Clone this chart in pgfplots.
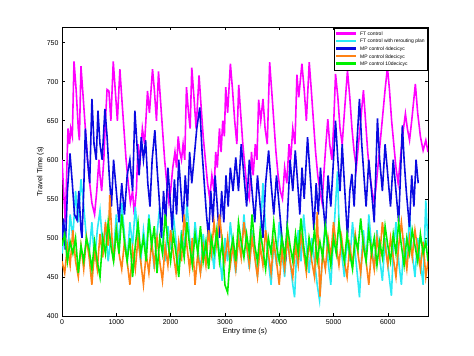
\documentclass[border=0pt]{standalone}
\usepackage{fontspec}
\setmainfont{Liberation Sans}
\usepackage{pgfplots}
\pgfplotsset{compat=1.18}
\definecolor{cFT}{RGB}{255,0,255}
\definecolor{cRR}{RGB}{40,235,245}
\definecolor{cMPa}{RGB}{10,10,225}
\definecolor{cMPb}{RGB}{255,130,20}
\definecolor{cMPc}{RGB}{0,240,0}
\newcommand{\lgline}[1]{\textcolor{#1}{\rule[0.3ex]{0.72cm}{2.4pt}}}
\begin{document}
\begin{tikzpicture}
\useasboundingbox (0,0) rectangle (474bp,356bp);
\begin{axis}[
  at={(62bp,40bp)}, anchor=south west, scale only axis,
  width=366bp, height=289bp,
  xmin=0, xmax=6740, ymin=400, ymax=770,
  xtick={0,1000,2000,3000,4000,5000,6000},
  ytick={400,450,500,550,600,650,700,750},
  tick align=inside, major tick length=3bp,
  axis line style={line width=0.6pt},
  tick style={black, line width=0.5pt},
  tick label style={font=\fontsize{7}{8}\selectfont},
  label style={font=\fontsize{7.5}{9}\selectfont},
  /pgf/number format/assume math mode=true,
  /pgf/number format/set thousands separator={},
  xlabel={Entry time (s)}, ylabel={Travel Time (s)},
  xlabel style={yshift=3bp}, ylabel style={yshift=-4bp},
]
\addplot[color=cFT, line width=1.6pt] coordinates {
(0,600)(30,560)(60,520)(90,590)(110,640)(140,620)(160,640)(190,630)(221,726)(260,690)(300,640)(320,625)(349,720)(390,680)(430,640)(470,600)(510,570)(550,545)(600,530)(640,560)(680,600)(700,580)(730,560)(770,600)(800,650)(830,690)(864,688)(900,650)(944,726)(980,690)(1020,650)(1066,716)(1100,680)(1140,640)(1180,600)(1220,570)(1260,545)(1300,560)(1330,530)(1370,560)(1400,620)(1440,600)(1480,640)(1520,620)(1575,688)(1610,660)(1667,716)(1700,690)(1740,650)(1777,713)(1810,680)(1850,640)(1890,600)(1930,570)(1970,545)(2000,560)(2040,590)(2080,610)(2110,590)(2140,630)(2170,610)(2200,600)(2230,620)(2260,600)(2292,693)(2330,660)(2360,640)(2390,718)(2430,680)(2470,640)(2524,708)(2560,670)(2600,630)(2640,600)(2680,570)(2720,550)(2760,580)(2800,560)(2830,610)(2860,590)(2900,640)(2930,610)(2960,650)(2990,630)(3015,693)(3050,660)(3101,723)(3140,690)(3180,650)(3220,620)(3254,696)(3290,660)(3330,620)(3370,590)(3410,560)(3450,550)(3490,610)(3520,580)(3560,620)(3590,600)(3621,677)(3660,650)(3701,678)(3740,640)(3780,620)(3824,725)(3860,690)(3900,650)(3940,610)(3980,580)(4020,560)(4060,550)(4100,590)(4140,570)(4180,620)(4210,600)(4250,640)(4290,620)(4326,709)(4360,680)(4418,723)(4460,690)(4500,650)(4553,725)(4590,690)(4630,650)(4670,610)(4710,580)(4750,560)(4790,545)(4830,590)(4860,620)(4895,652)(4930,620)(4970,600)(5000,640)(5037,710)(5080,680)(5120,640)(5160,620)(5200,660)(5257,714)(5300,680)(5340,640)(5380,610)(5420,590)(5460,620)(5500,650)(5551,689)(5590,650)(5630,610)(5670,580)(5710,560)(5750,545)(5790,570)(5830,600)(5870,630)(5910,660)(5950,690)(5993,718)(6030,690)(6070,650)(6110,620)(6150,590)(6190,570)(6230,600)(6270,630)(6324,659)(6360,640)(6400,625)(6440,650)(6507,697)(6550,660)(6600,630)(6650,612)(6700,625)(6740,610)
};
\addplot[color=cRR, line width=1.6pt] coordinates {
(0,480)(50,510)(100,470)(150,530)(200,500)(250,560)(300,520)(350,575)(400,540)(450,500)(500,480)(550,520)(600,470)(650,510)(700,535)(750,490)(800,515)(850,470)(900,500)(950,480)(1000,530)(1050,490)(1100,545)(1150,505)(1200,470)(1250,520)(1300,490)(1350,540)(1400,500)(1450,470)(1500,510)(1550,480)(1600,530)(1650,495)(1700,460)(1750,505)(1800,540)(1850,500)(1900,470)(1950,515)(2000,485)(2050,530)(2100,495)(2150,465)(2200,510)(2250,480)(2300,545)(2350,500)(2400,470)(2450,520)(2500,490)(2550,455)(2600,505)(2650,475)(2700,520)(2750,490)(2800,460)(2850,510)(2900,480)(2950,445)(3000,500)(3050,470)(3100,520)(3150,485)(3200,455)(3250,505)(3300,475)(3350,530)(3400,490)(3450,460)(3500,510)(3550,480)(3600,450)(3650,500)(3700,570)(3750,510)(3800,470)(3850,440)(3900,495)(3950,465)(4000,520)(4050,480)(4100,450)(4150,500)(4200,470)(4250,440)(4283,424)(4320,480)(4350,510)(4400,470)(4450,530)(4500,490)(4550,455)(4600,500)(4650,470)(4700,440)(4743,420)(4800,480)(4850,520)(4900,470)(4950,440)(5000,500)(5073,585)(5100,520)(5150,480)(5200,450)(5250,500)(5300,470)(5350,520)(5400,480)(5450,445)(5478,424)(5520,480)(5550,510)(5600,470)(5650,530)(5700,490)(5750,460)(5800,510)(5850,475)(5900,445)(5950,500)(6000,465)(6066,426)(6100,480)(6150,520)(6200,470)(6250,440)(6300,500)(6350,465)(6400,530)(6450,480)(6500,450)(6550,500)(6600,470)(6650,440)(6700,548)(6740,490)
};
\addplot[color=cMPa, line width=1.6pt] coordinates {
(0,500)(30,525)(60,485)(100,560)(147,608)(190,570)(230,530)(276,523)(310,560)(350,510)(368,500)(400,560)(430,640)(470,600)(510,570)(551,678)(590,620)(630,600)(662,663)(700,620)(740,600)(790,665)(830,630)(870,580)(910,540)(950,600)(1000,560)(1050,520)(1100,570)(1150,530)(1200,580)(1250,600)(1300,560)(1342,663)(1380,620)(1420,580)(1460,629)(1500,600)(1540,625)(1580,570)(1620,540)(1660,600)(1710,638)(1750,590)(1790,550)(1830,500)(1870,560)(1910,520)(1950,590)(1990,550)(2030,510)(2070,575)(2110,530)(2150,600)(2190,560)(2230,520)(2270,580)(2310,540)(2350,610)(2390,570)(2430,600)(2482,640)(2537,667)(2580,610)(2620,570)(2660,530)(2700,500)(2740,560)(2780,520)(2820,580)(2860,540)(2900,500)(2940,560)(2980,520)(3020,580)(3060,540)(3100,590)(3150,560)(3200,603)(3250,560)(3300,620)(3350,580)(3400,540)(3450,600)(3500,560)(3550,520)(3600,580)(3650,540)(3700,500)(3750,570)(3805,612)(3850,570)(3900,530)(3950,580)(4000,540)(4050,500)(4118,470)(4160,540)(4200,600)(4250,560)(4296,612)(4340,570)(4380,530)(4420,590)(4460,550)(4522,629)(4560,590)(4600,550)(4640,510)(4680,570)(4720,530)(4760,590)(4800,550)(4850,510)(4900,580)(4950,540)(5000,600)(5037,650)(5080,600)(5120,560)(5160,620)(5200,570)(5257,501)(5300,560)(5338,582)(5380,540)(5430,620)(5478,678)(5520,620)(5560,580)(5600,540)(5650,600)(5700,560)(5750,520)(5809,653)(5850,600)(5900,560)(5950,620)(6000,580)(6050,540)(6100,600)(6150,560)(6200,520)(6268,644)(6300,600)(6340,560)(6398,514)(6440,580)(6480,540)(6520,600)(6560,570)
};
\addplot[color=cMPb, line width=1.6pt] coordinates {
(0,470)(50,455)(100,490)(150,465)(200,510)(250,470)(300,450)(350,490)(400,460)(450,500)(500,475)(550,440)(600,485)(650,460)(700,505)(750,475)(800,520)(850,490)(880,555)(920,500)(950,470)(1000,510)(1050,480)(1100,460)(1150,495)(1200,470)(1250,440)(1300,485)(1350,460)(1400,500)(1450,470)(1500,440)(1550,480)(1600,455)(1650,495)(1700,465)(1750,500)(1800,470)(1850,445)(1900,490)(1950,465)(2000,510)(2050,480)(2100,455)(2150,495)(2200,470)(2250,530)(2300,490)(2350,460)(2400,500)(2450,440)(2500,480)(2550,455)(2600,490)(2650,465)(2700,510)(2750,480)(2800,520)(2850,490)(2900,530)(2950,495)(3000,470)(3050,500)(3100,465)(3150,490)(3200,460)(3250,500)(3300,475)(3350,520)(3400,490)(3450,465)(3500,500)(3550,475)(3600,450)(3650,490)(3700,465)(3750,510)(3800,480)(3850,455)(3900,495)(3950,470)(4000,440)(4050,485)(4100,460)(4150,500)(4200,470)(4250,450)(4300,490)(4350,465)(4400,505)(4450,480)(4500,455)(4550,495)(4600,470)(4650,450)(4700,533)(4750,425)(4800,480)(4850,460)(4900,500)(4950,475)(5000,520)(5050,490)(5100,465)(5150,500)(5200,470)(5250,450)(5300,490)(5350,465)(5400,505)(5450,480)(5500,455)(5550,495)(5600,470)(5650,440)(5700,485)(5750,460)(5800,500)(5850,475)(5900,520)(5950,490)(6000,465)(6050,500)(6100,475)(6150,450)(6200,490)(6250,520)(6300,485)(6350,460)(6400,500)(6450,475)(6500,510)(6550,485)(6600,460)(6650,495)(6700,450)(6740,470)
};
\addplot[color=cMPc, line width=1.6pt] coordinates {
(0,490)(50,505)(100,470)(150,495)(200,480)(250,500)(300,455)(350,490)(400,470)(450,500)(500,485)(550,460)(600,495)(650,470)(700,450)(750,500)(800,480)(850,520)(900,490)(950,470)(1000,510)(1050,480)(1100,530)(1150,495)(1200,470)(1250,500)(1300,450)(1350,490)(1400,520)(1450,480)(1500,500)(1550,470)(1600,525)(1650,490)(1700,515)(1750,455)(1800,500)(1850,480)(1900,530)(1950,495)(2000,470)(2050,505)(2100,480)(2150,450)(2200,500)(2250,475)(2300,520)(2350,490)(2400,465)(2450,505)(2500,480)(2550,515)(2600,470)(2650,495)(2700,460)(2750,500)(2800,480)(2850,510)(2900,470)(2950,495)(3000,440)(3050,430)(3100,480)(3150,500)(3200,470)(3250,520)(3300,495)(3350,475)(3400,505)(3450,480)(3500,530)(3550,490)(3600,470)(3650,510)(3700,485)(3750,460)(3800,500)(3850,480)(3900,520)(3950,490)(4000,470)(4050,500)(4100,475)(4150,515)(4200,490)(4250,470)(4300,505)(4350,480)(4400,525)(4450,490)(4500,465)(4550,500)(4600,480)(4650,510)(4700,470)(4750,495)(4800,475)(4850,515)(4900,490)(4950,465)(5000,500)(5050,480)(5100,520)(5150,490)(5200,470)(5250,505)(5300,480)(5350,460)(5400,500)(5450,485)(5500,525)(5550,490)(5600,470)(5650,510)(5700,480)(5750,500)(5800,465)(5850,495)(5900,475)(5950,515)(6000,490)(6050,470)(6100,505)(6150,480)(6200,520)(6250,490)(6300,465)(6350,500)(6400,480)(6450,510)(6500,490)(6550,470)(6600,505)(6650,480)(6700,495)(6740,470)
};
\path (rel axis cs:0.997,0.997) node[anchor=north east, draw=black, line width=0.4pt, fill=white, inner sep=2pt, font=\fontsize{5}{7.6}\selectfont] {%
\begin{tabular}{@{}l@{\hspace{4pt}}l@{}}
\lgline{cFT} & FT control\\
\lgline{cRR} & FT control with rerouting plan\\
\lgline{cMPa} & MP control 4decicyc\\
\lgline{cMPb} & MP control 8decicyc\\
\lgline{cMPc} & MP control 10decicyc
\end{tabular}};
\end{axis}
\end{tikzpicture}
\end{document}
